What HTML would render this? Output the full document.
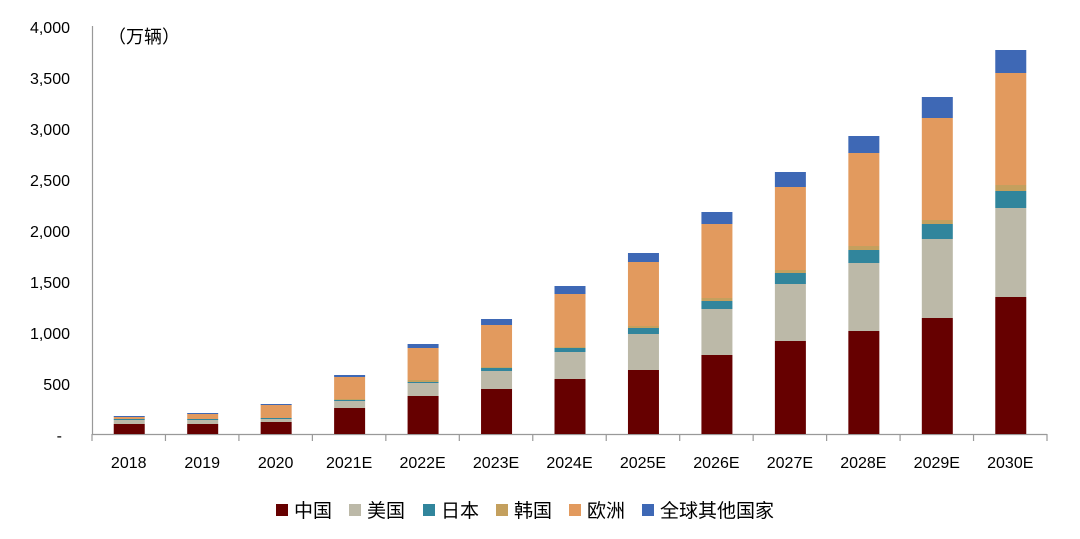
<!DOCTYPE html>
<html><head><meta charset="utf-8"><style>body{margin:0;background:#fff}svg{display:block}</style></head><body>
<svg width="1080" height="539" xmlns="http://www.w3.org/2000/svg" font-family="Liberation Sans, Noto Sans CJK SC, sans-serif">
<g font-size="16" fill="#000" text-anchor="end">
<text x="70" y="33">4,000</text><text x="70" y="84">3,500</text><text x="70" y="135">3,000</text><text x="70" y="186">2,500</text><text x="70" y="237">2,000</text><text x="70" y="288">1,500</text><text x="70" y="339">1,000</text><text x="70" y="390">500</text><text x="62" y="441">-</text>
</g>
<text x="108" y="43" font-size="18" font-family="Noto Sans CJK SC, sans-serif">（万辆）</text>
<line x1="92.5" y1="26" x2="92.5" y2="435" stroke="#999" stroke-width="1.2"/>
<line x1="92" y1="434.5" x2="1047" y2="434.5" stroke="#999" stroke-width="1.2"/>
<g id="bars"></g>
<g id="ticks" stroke="#999" stroke-width="1.2"></g>
<g id="xl" font-size="16" text-anchor="middle"></g>
<g font-size="19" font-family="Noto Sans CJK SC, sans-serif">
<rect x="276" y="504" width="12" height="12" fill="#660000"/><text x="294" y="517">中国</text>
<rect x="349" y="504" width="12" height="12" fill="#bcb9a8"/><text x="367" y="517">美国</text>
<rect x="423" y="504" width="12" height="12" fill="#31859c"/><text x="441" y="517">日本</text>
<rect x="496" y="504" width="12" height="12" fill="#c4a05e"/><text x="514" y="517">韩国</text>
<rect x="569" y="504" width="12" height="12" fill="#e29a5e"/><text x="587" y="517">欧洲</text>
<rect x="642" y="504" width="12" height="12" fill="#3e68b5"/><text x="660" y="517">全球其他国家</text>
</g>
</svg>
<script>
var labels=["2018","2019","2020","2021E","2022E","2023E","2024E","2025E","2026E","2027E","2028E","2029E","2030E"];
var tops=[[424,420,419,419,417,416],[424,420,419,419,414,413],[422,419,418,418,405,404],[408,401,400,399,377,375],[396,383,382,380,348,344],[389,371,368,367,325,319],[379,352,348,347,294,286],[370,334,328,326,262,253],[355,309,301,298,224,212],[341,284,273,270,187,172],[331,263,250,246,153,136],[318,239,224,220,118,97],[297,208,191,185,73,50]];
var cols=["#660000","#bcb9a8","#31859c","#c4a05e","#e29a5e","#3e68b5"];
var ns="http://www.w3.org/2000/svg",b=document.getElementById("bars"),t=document.getElementById("ticks"),xl=document.getElementById("xl");
var w=(1047-92)/13;
for(var i=0;i<13;i++){var cx=92+w*(i+0.5);var prev=434;
for(var j=0;j<6;j++){var r=document.createElementNS(ns,"rect");r.setAttribute("x",cx-15);r.setAttribute("width",31);r.setAttribute("y",tops[i][j]);r.setAttribute("height",Math.max(prev-tops[i][j],0.01));r.setAttribute("fill",cols[j]);b.appendChild(r);prev=tops[i][j];}
var l=document.createElementNS(ns,"line");var x=92+w*i;l.setAttribute("x1",x);l.setAttribute("x2",x);l.setAttribute("y1",434);l.setAttribute("y2",441);t.appendChild(l);
var tx=document.createElementNS(ns,"text");tx.setAttribute("x",cx);tx.setAttribute("y",468);tx.textContent=labels[i];xl.appendChild(tx);}
var l2=document.createElementNS(ns,"line");l2.setAttribute("x1",1047);l2.setAttribute("x2",1047);l2.setAttribute("y1",434);l2.setAttribute("y2",441);t.appendChild(l2);
</script>
</body></html>
